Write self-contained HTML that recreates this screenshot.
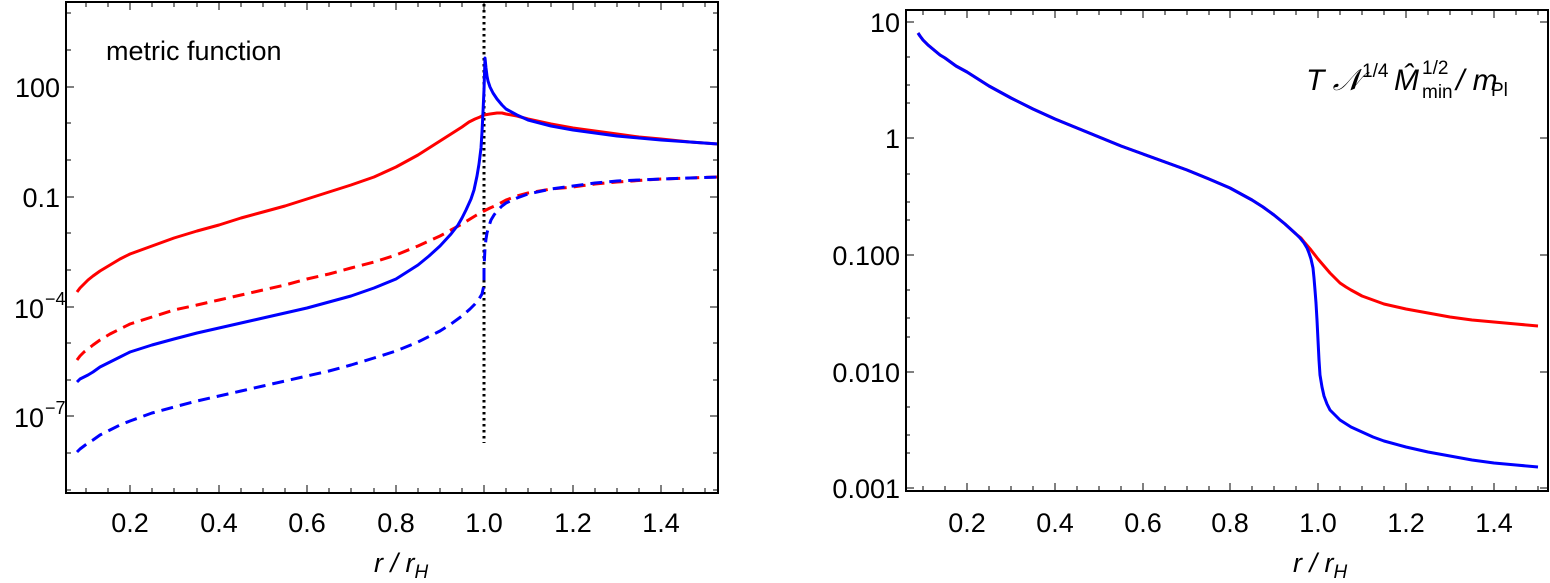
<!DOCTYPE html>
<html><head><meta charset="utf-8"><style>
html,body{margin:0;padding:0;background:#fff;}
svg{display:block;font-family:"Liberation Sans",sans-serif;}
</style></head><body>
<svg width="1550" height="583" viewBox="0 0 1550 583" xmlns="http://www.w3.org/2000/svg">
<g fill="none" stroke-linejoin="round" stroke-linecap="butt">
<line x1="484" y1="4" x2="484" y2="443" stroke="#000" stroke-width="3" stroke-dasharray="2.5,3.5"/>
<polyline stroke="#f00" stroke-width="3" points="77,292 80,288 84,284 88,280 93,276 100,271 110,265 120,259 130,254 152,246 174,238 197,231 219,225 241,218 263,212 285,206 307,199 329,192 351,185 374,177 396,167 407,161 418,155 429,148 440,141 451,134 462,127 469,122 475,119 480,117 484,115 490,114 497,113 502,113 506,114 517,116 528,119 551,124 573,128 595,131 617,134 639,137 661,139 690,142 718,144"/>
<polyline stroke="#f00" stroke-width="3" stroke-dasharray="12,7" points="77,360 80,356 84,352 88,349 93,345 100,340 110,334 120,329 130,324 152,317 174,310 197,305 219,300 241,295 263,290 285,285 307,279 329,274 351,268 374,262 396,255 418,246 440,236 451,230 462,224 475,216 484,211 490,208 497,205 506,200 517,196 528,193 551,189 573,187 595,184 617,182 661,179 718,177"/>
<polyline stroke="#00f" stroke-width="3" stroke-dasharray="12,7" points="77,452 80,449 84,446 88,443 93,440 100,435 110,430 120,425 130,421 152,413 174,407 197,401 219,396 241,391 263,386 285,381 307,376 329,371 351,365 374,358 396,351 418,342 440,331 451,324 462,316 470,309 475,304 479,299 482,294 484,285 484,268 485,248 486,239 487,233 489,226 491,220 494,215 497,211 502,206 506,203 517,198 528,194 551,189 573,186 595,183 617,181 661,179 718,177"/>
<polyline stroke="#00f" stroke-width="3" points="77,382 80,379 84,377 88,375 93,372 100,367 110,362 120,357 130,352 152,345 174,339 197,333 219,328 241,323 263,318 285,313 307,308 329,302 351,296 374,288 396,279 407,272 418,265 429,256 440,246 451,234 458,225 462,218 466,210 471,199 474,190 477,176 479,164 481,148 482,132 483,112 484,90 485,58 486,68 487,76 488,81 490,87 493,93 497,99 502,105 506,109 517,115 528,120 551,126 573,130 595,133 617,136 639,138 661,140 690,142 718,144"/>
<polyline stroke="#f00" stroke-width="3" points="918,33 920,36 923,40 928,45 934,50 940,55 945,58 956,66 967,72 978,79 989,86 1000,92 1011,98 1033,109 1055,119 1077,128 1099,137 1121,146 1143,154 1165,162 1187,170 1209,179 1230,188 1241,194 1252,200 1263,207 1274,215 1285,224 1296,234 1301,238 1305,243 1311,250 1318,259 1324,266 1330,273 1335,278 1340,283 1346,287 1351,290 1362,296 1373,300 1384,304 1406,309 1428,313 1450,317 1472,320 1494,322 1516,324 1538,326"/>
<polyline stroke="#00f" stroke-width="3" points="918,33 920,36 923,40 928,45 934,50 940,55 945,58 956,66 967,72 978,79 989,86 1000,92 1011,98 1033,109 1055,119 1077,128 1099,137 1121,146 1143,154 1165,162 1187,170 1209,179 1230,188 1241,194 1252,200 1263,207 1274,215 1285,224 1296,234 1300,238 1304,243 1307,248 1309,253 1311,259 1313,268 1314,278 1315,290 1316,303 1317,320 1318,340 1319,360 1320,375 1322,387 1324,396 1327,404 1330,410 1335,415 1340,420 1351,427 1362,432 1373,437 1384,441 1406,447 1428,452 1450,456 1472,460 1494,463 1516,465 1538,467"/>
</g>
<g stroke="#000" stroke-width="1">
<path d="M86,493v-5M108,493v-5M130,493v-8M152,493v-5M174,493v-5M197,493v-5M219,493v-8M241,493v-5M263,493v-5M285,493v-5M307,493v-8M329,493v-5M351,493v-5M374,493v-5M396,493v-8M418,493v-5M440,493v-5M462,493v-5M484,493v-8M506,493v-5M528,493v-5M551,493v-5M573,493v-8M595,493v-5M617,493v-5M639,493v-5M661,493v-8M683,493v-5M705,493v-5
M86,2v5M108,2v5M130,2v8M152,2v5M174,2v5M197,2v5M219,2v8M241,2v5M263,2v5M285,2v5M307,2v8M329,2v5M351,2v5M374,2v5M396,2v8M418,2v5M440,2v5M462,2v5M484,2v8M506,2v5M528,2v5M551,2v5M573,2v8M595,2v5M617,2v5M639,2v5M661,2v8M683,2v5M705,2v5"/>
<path d="M66,13h5M66,50h5M66,87h8M66,123h5M66,160h5M66,197h8M66,233h5M66,270h5M66,307h8M66,343h5M66,380h5M66,416h8M66,453h5M66,490h5
M718,13h-5M718,50h-5M718,87h-8M718,123h-5M718,160h-5M718,197h-8M718,233h-5M718,270h-5M718,307h-8M718,343h-5M718,380h-5M718,416h-8M718,453h-5M718,490h-5"/>
<path d="M923,491v-5M945,491v-5M967,491v-8M989,491v-5M1011,491v-5M1033,491v-5M1055,491v-8M1077,491v-5M1099,491v-5M1121,491v-5M1143,491v-8M1165,491v-5M1187,491v-5M1209,491v-5M1230,491v-8M1252,491v-5M1274,491v-5M1296,491v-5M1318,491v-8M1340,491v-5M1362,491v-5M1384,491v-5M1406,491v-8M1428,491v-5M1450,491v-5M1472,491v-5M1494,491v-8M1516,491v-5M1538,491v-5
M923,10v5M945,10v5M967,10v8M989,10v5M1011,10v5M1033,10v5M1055,10v8M1077,10v5M1099,10v5M1121,10v5M1143,10v8M1165,10v5M1187,10v5M1209,10v5M1230,10v8M1252,10v5M1274,10v5M1296,10v5M1318,10v8M1340,10v5M1362,10v5M1384,10v5M1406,10v8M1428,10v5M1450,10v5M1472,10v5M1494,10v8M1516,10v5M1538,10v5"/>
<path d="M906,22h8M906,138h8M906,255h8M906,372h8M906,488h8M1548,22h-8M1548,138h-8M1548,255h-8M1548,372h-8M1548,488h-8
M906,57h4M906,85h4M906,103h4M906,174h4M906,202h4M906,220h4M906,290h4M906,318h4M906,337h4M906,407h4M906,435h4M906,453h4"/>
</g>
<rect x="66" y="2" width="652" height="491" fill="none" stroke="#000" stroke-width="2"/>
<rect x="906" y="10" width="642" height="481" fill="none" stroke="#000" stroke-width="2"/>
<g font-size="27" fill="#000">
<text x="106" y="60" font-size="27">metric function</text>
<g text-anchor="end">
<text x="60" y="97">100</text>
<text x="60" y="207">0.1</text>
<text x="44" y="318">10</text><text x="44" y="427">10</text>
<text x="900" y="32">10</text>
<text x="900" y="148">1</text>
<text x="900" y="265">0.100</text>
<text x="900" y="382">0.010</text>
<text x="900" y="498">0.001</text>
</g>
<text x="45" y="305" font-size="18">−4</text>
<text x="45" y="414" font-size="18">−7</text>
<g text-anchor="middle">
<text x="130" y="532">0.2</text><text x="219" y="532">0.4</text><text x="307" y="532">0.6</text><text x="396" y="532">0.8</text><text x="484" y="532">1.0</text><text x="573" y="532">1.2</text><text x="661" y="532">1.4</text>
<text x="967" y="532">0.2</text><text x="1055" y="532">0.4</text><text x="1143" y="532">0.6</text><text x="1230" y="532">0.8</text><text x="1318" y="532">1.0</text><text x="1406" y="532">1.2</text><text x="1494" y="532">1.4</text>
</g>
<text x="374" y="572" font-style="italic">r / r<tspan font-size="19" dy="6">H</tspan></text>
<text x="1293" y="572" font-style="italic">r / r<tspan font-size="19" dy="6">H</tspan></text>
<text x="1306" y="90" font-size="30" font-style="italic">T 𝒩</text>
<text x="1362" y="77" font-size="19">1/4</text>
<text x="1394" y="90" font-size="30" font-style="italic">M̂</text>
<text x="1422" y="74" font-size="19">1/2</text>
<text x="1422" y="98" font-size="19">min</text>
<text x="1456" y="90" font-size="30" font-style="italic">/ m</text>
<text x="1491" y="96" font-size="19">Pl</text>
</g>
</svg>
</body></html>
